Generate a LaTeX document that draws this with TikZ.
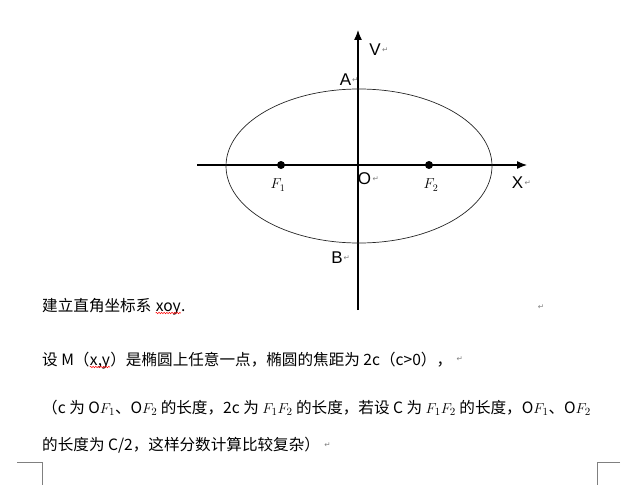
\documentclass[tikz,border=0pt]{standalone}
\usepackage{fontspec}
\setmainfont{Liberation Sans}
\newfontfamily\cjk{Noto Sans CJK SC}
\newfontfamily\symfont{DejaVu Sans}
\usetikzlibrary{arrows.meta,positioning,decorations.pathmorphing}

\begin{document}
\begin{tikzpicture}[x=1pt,y=-1pt,
    axis/.style={line width=1.2pt,-{Latex[length=10pt,width=8pt]}},
    letter/.style={inner sep=0pt,font=\fontsize{17}{17}\selectfont},
    focus/.style={circle,fill,inner sep=0pt,minimum size=8pt},
    flabel/.style={inner sep=0pt,font=\fontsize{14}{14}\selectfont},
    textline/.style={anchor=base west,inner sep=0pt,font=\cjk\fontsize{15.6}{15.6}\selectfont},
    pmark/.style={inner sep=0pt,text=gray,font=\symfont\fontsize{7.5}{7.5}\selectfont},
    wavy/.style={red,line width=0.5pt,decorate,decoration={snake,amplitude=0.7pt,segment length=2.6pt}},
    corner/.style={gray,line width=0.8pt}]
    \useasboundingbox (0,0) rectangle (634,495);

    % axes and ellipse
    \coordinate (xl) at (197,165);
    \coordinate (xr) at (527,165);
    \coordinate (yb) at (358,310);
    \coordinate (yt) at (358,30);
    \draw[axis] (xl) -- (xr);
    \draw[axis] (yb) -- (yt);
    \draw[line width=0.7pt,black!85] (359,166) ellipse [x radius=133, y radius=77];

    \node[focus] (F1) at (281,165) {};
    \node[focus] (F2) at (429,165) {};
    \node[flabel] (LF1) at (278,185) {$F_1$};
    \node[flabel] (LF2) at (431,185) {$F_2$};

    \node[letter] (V) at (375,50) {V};
    \node[letter] (A) at (345.5,80) {A};
    \node[letter] (O) at (364.5,179) {O};
    \node[letter] (X) at (517.5,183) {X};
    \node[letter] (B) at (337,258) {B};
    \node[pmark,right=1pt of V] {↵};
    \node[pmark,right=0.5pt of A] {↵};
    \node[pmark,right=1pt of O] {↵};
    \node[pmark,right=1pt of X] {↵};
    \node[pmark,right=0.5pt of B] {↵};

    % text below the figure
    \node[textline] (L1) at (42,311) {建立直角坐标系};
    \node[textline] (xoy) at ([xshift=4pt]L1.base east) {xoy};
    \node[textline] (L1b) at (xoy.base east) {.};
    \node[textline] (L2) at (42,365) {设 M（};
    \node[textline] (xy) at (L2.base east) {x,y};
    \node[textline] (L2b) at (xy.base east) {）是椭圆上任意一点，椭圆的焦距为 2c（c>0），};
    \node[textline] (L3) at (42,413) {（c 为 O$F_1$、O$F_2$ 的长度，2c 为 $F_1F_2$ 的长度，若设 C 为 $F_1F_2$ 的长度，O$F_1$、O$F_2$};
    \node[textline] (L4) at (42,450) {的长度为 C/2，这样分数计算比较复杂）};
    \draw[wavy] ([yshift=-2pt]xoy.base west) -- ([yshift=-2pt]xoy.base east);
    \draw[wavy] ([yshift=-2pt]xy.base west) -- ([yshift=-2pt]xy.base east);
    \node[pmark] at (541,307) {↵};
    \node[pmark,right=4pt of L2b] {↵};
    \node[pmark,right=4pt of L4] {↵};

    % page corners
    \draw[corner] (17,462) -- (42,462) -- (42,485);
    \draw[corner] (620,462) -- (597,462) -- (597,485);
\end{tikzpicture}
\end{document}
